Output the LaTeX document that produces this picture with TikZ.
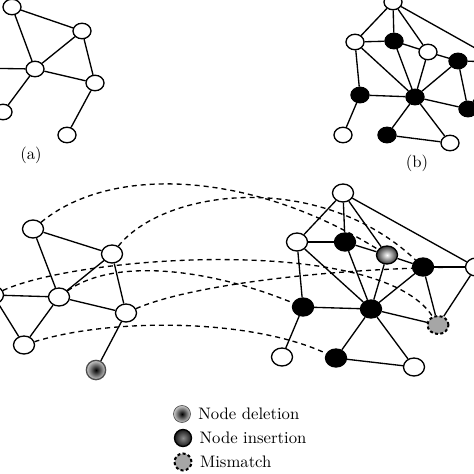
\documentclass[tikz,border=0pt]{standalone}
\usetikzlibrary{shapes.geometric}
\usetikzlibrary{positioning}

\begin{document}
\begin{tikzpicture}[x = 0.6pt, y = -0.6pt,
        vtx/.style = {ellipse, draw, thick, fill=white, inner sep=0pt, minimum width=12.6pt, minimum height=10.8pt},
        small/.style = {minimum width=10.8pt, minimum height=9.3pt},
        blk/.style = {vtx, fill=black},
        edge/.style = {thick},
        match/.style = {thick, dash pattern=on 3pt off 2.4pt},
        deleted/.style = {vtx, draw=black!70, shading=radial, inner color=black, outer color=black!20},
        inserted/.style = {vtx, shading=radial, inner color=white, outer color=black!80},
        mismatch/.style = {vtx, fill=black!35, very thick, dash pattern=on 1.8pt off 1.4pt},
        legdot/.style = {circle, inner sep=0pt, minimum size=10.2pt}]

        \useasboundingbox (0,0) rectangle (474,474);
        \clip (0,0) rectangle (474,474);

        % graph (a)
        \node[vtx, small] (A0) at (-30, 68) {};
        \node[vtx, small] (A1) at (12, 7) {};
        \node[vtx, small] (A2) at (82, 31) {};
        \node[vtx, small] (A3) at (35, 69) {};
        \node[vtx, small] (A4) at (95, 83) {};
        \node[vtx, small] (A5) at (3, 112) {};
        \node[vtx, small] (A6) at (67, 135) {};
        \node (lbla) at (31, 155) {(a)};

        \foreach \a/\b in {A1/A2, A1/A3, A2/A3, A2/A4, A3/A4, A3/A5, A4/A6, A0/A3, A0/A5}
        \draw[edge] (\a) -- (\b);

        % graph (b)
        \node[vtx, small] (B1) at (393, 2) {};
        \node[vtx, small] (B2) at (355, 42) {};
        \node[blk, small] (B3) at (394, 41) {};
        \node[vtx, small] (B4) at (428, 52) {};
        \node[blk, small] (B5) at (458, 61) {};
        \node[blk, small] (B6) at (360, 95) {};
        \node[blk, small] (B7) at (415, 97) {};
        \node[blk, small] (B8) at (468, 109) {};
        \node[vtx, small] (B9) at (343, 135) {};
        \node[blk, small] (B10) at (387, 135) {};
        \node[vtx, small] (B11) at (450, 143) {};
        \node[vtx, small] (B12) at (500, 62) {};
        \node (lblb) at (417, 163) {(b)};

        \foreach \a/\b in {B1/B2, B1/B3, B1/B4, B1/B12, B2/B3, B3/B4, B4/B5, B5/B12, B2/B7, B3/B7, B4/B7, B5/B7,
                B2/B6, B6/B7, B6/B9, B7/B8, B7/B10, B7/B11, B10/B11, B5/B8, B8/B12}
        \draw[edge] (\a) -- (\b);

        % source graph
        \node[vtx] (C0) at (-7, 295) {};
        \node[vtx] (C1) at (33, 229) {};
        \node[vtx] (C2) at (112, 254) {};
        \node[vtx] (C3) at (59, 297) {};
        \node[vtx] (C4) at (126, 313) {};
        \node[vtx] (C5) at (24, 345) {};
        \node[deleted, circle, minimum size=11.6pt] (C6) at (96, 370) {};

        \foreach \a/\b in {C1/C2, C1/C3, C2/C3, C2/C4, C3/C4, C3/C5, C0/C3, C0/C5, C4/C6}
        \draw[edge] (\a) -- (\b);

        % target graph
        \node[vtx] (D1) at (343, 193) {};
        \node[vtx] (D2) at (297, 242) {};
        \node[blk] (D3) at (345, 242) {};
        \node[inserted] (D4) at (387, 255) {};
        \node[blk] (D5) at (423, 267) {};
        \node[vtx] (D6) at (476, 267) {};
        \node[blk] (D7) at (303, 307) {};
        \node[blk] (D8) at (371, 309) {};
        \node[mismatch] (D9) at (438, 325) {};
        \node[vtx] (D10) at (282, 357) {};
        \node[blk] (D11) at (336, 358) {};
        \node[vtx] (D12) at (414, 367) {};

        \foreach \a/\b in {D1/D2, D1/D3, D1/D4, D1/D6, D2/D3, D3/D4, D4/D5, D5/D6, D2/D8, D3/D8, D4/D8, D5/D8,
                D2/D7, D7/D8, D7/D10, D8/D11, D8/D12, D11/D12, D8/D9, D5/D9, D9/D6}
        \draw[edge] (\a) -- (\b);

        % matching
        \draw[match] (C1) .. controls (110, 165) and (250, 170) .. (D4);
        \draw[match] (C2) .. controls (165, 188) and (320, 170) .. (D5);
        \draw[match] (C0) .. controls (80, 255) and (380, 235) .. (D9);
        \draw[match] (C3) .. controls (110, 260) and (200, 265) .. (D7);
        \draw[match] (C4) .. controls (190, 285) and (330, 268) .. (D6);
        \draw[match] (C5) .. controls (110, 318) and (250, 318) .. (D11);

        % legend
        \node[legdot, draw=black!70, shading=radial, inner color=black, outer color=black!20] (leg1) at (182, 414) {};
        \node[legdot, draw, thick, shading=radial, inner color=black!45, outer color=black!90] (leg2) at (183, 438) {};
        \node[legdot, fill=black!35, draw, very thick, dash pattern=on 1.8pt off 1.4pt] (leg3) at (183, 462) {};
        \node[right=1pt of leg1] {Node deletion};
        \node[right=1pt of leg2] {Node insertion};
        \node[right=1pt of leg3] {Mismatch};

\end{tikzpicture}
\end{document}
